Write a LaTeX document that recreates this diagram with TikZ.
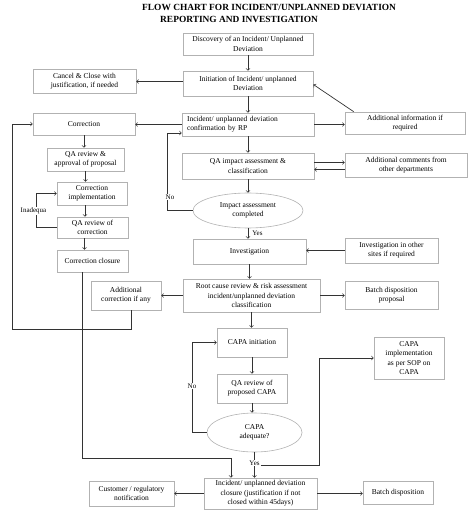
\documentclass[tikz,border=0pt]{standalone}
\usepackage{fontspec}
\setmainfont{Liberation Serif}
\usepackage{tikz}
\usetikzlibrary{arrows}
\usetikzlibrary{calc}
\usetikzlibrary{shapes.geometric}
\tikzset{
  box/.style={draw=black!30,line width=0.6pt,align=center,inner sep=1pt,font=\fontsize{7.5}{9.3}\selectfont},
  oval/.style={ellipse,draw=black!30,line width=0.6pt,align=center,inner sep=0pt,font=\fontsize{7.5}{9.3}\selectfont},
  lbl/.style={fill=white,inner sep=1pt,font=\fontsize{7}{8}\selectfont},
  ttl/.style={anchor=west,inner sep=0pt,font=\fontsize{9.4}{10}\selectfont\bfseries},
  link/.style={draw=black!80,line width=0.7pt}
}

\begin{document}
\begin{tikzpicture}[x=1pt,y=-1pt,>=to]
\useasboundingbox (0,0) rectangle (474,513);
\draw(142,7.5) node[ttl] (t1) {FLOW CHART FOR INCIDENT/UNPLANNED DEVIATION};
\draw(160,19.5) node[ttl] (t2) {REPORTING AND INVESTIGATION};
\draw(248,44) node[box,minimum width=130pt,minimum height=22pt] (disc) {Discovery of an Incident/ Unplanned\\Deviation};
\draw(248,83.5) node[box,minimum width=130pt,minimum height=25pt] (init) {Initiation of Incident/ unplanned\\Deviation};
\draw(84.5,81) node[box,minimum width=103pt,minimum height=24pt] (cancel) {Cancel \& Close with\\justification, if needed};
\draw(248,124.5) node[box,minimum width=132pt,minimum height=23pt,text width=122pt,align=left] (confirm) {Incident/ unplanned deviation\\confirmation by RP};
\draw(84,124) node[box,minimum width=102pt,minimum height=22pt] (correct) {Correction};
\draw(405,123) node[box,minimum width=120pt,minimum height=22pt] (addinfo) {Additional information if\\required};
\draw(248,166) node[box,minimum width=132pt,minimum height=26pt] (qaimp) {QA impact assessment \&\\classification};
\draw(406,165) node[box,minimum width=122pt,minimum height=24pt] (addcom) {Additional comments from\\other departments};
\draw(248,210.5) node[oval,minimum width=110pt,minimum height=35pt] (impact) {Impact assessment\\completed};
\draw(249.5,251.5) node[box,minimum width=113pt,minimum height=25pt] (invest) {Investigation};
\draw(391.5,250.5) node[box,minimum width=93pt,minimum height=25pt] (invother) {Investigation in other\\sites if required};
\draw(85.5,159.5) node[box,minimum width=77pt,minimum height=23pt] (qaappr) {QA review \&\\approval of proposal};
\draw(92,193.5) node[box,minimum width=70pt,minimum height=23pt] (cimpl) {Correction\\implementation};
\draw(92.5,227.5) node[box,minimum width=71pt,minimum height=21pt] (qacorr) {QA review of\\correction};
\draw(92.5,261) node[box,minimum width=71pt,minimum height=22pt] (cclose) {Correction closure};
\draw(251.5,295.5) node[box,minimum width=137pt,minimum height=33pt] (rootc) {Root cause review \& risk assessment\\incident/unplanned deviation\\classification};
\draw(126,295.5) node[box,minimum width=70pt,minimum height=29pt] (addcorr) {Additional\\correction if any};
\draw(391.5,295) node[box,minimum width=93pt,minimum height=28pt] (batchp) {Batch disposition\\proposal};
\draw(252,342.5) node[box,minimum width=70pt,minimum height=29pt] (capai) {CAPA initiation};
\draw(409,358) node[box,minimum width=70pt,minimum height=42pt] (capaimpl) {CAPA\\implementation\\as per SOP on\\CAPA};
\draw(252,388.5) node[box,minimum width=70pt,minimum height=29pt] (qarev) {QA review of\\proposed CAPA};
\draw(254.5,432.5) node[oval,minimum width=95pt,minimum height=39pt] (adequate) {CAPA\\adequate?};
\draw(260.5,493.5) node[box,minimum width=113pt,minimum height=31pt] (closure) {Incident/ unplanned deviation\\closure (justification if not\\closed within 45days)};
\draw(131.5,493.5) node[box,minimum width=85pt,minimum height=25pt] (custnot) {Customer / regulatory\\notification};
\draw(398,492.5) node[box,minimum width=70pt,minimum height=23pt] (batchd) {Batch disposition};
\coordinate (cjoin) at (231,458);
\coordinate (lbus) at (12,329);
\coordinate (rbus) at (319,0);
\draw[link,->] (disc.south) -- (disc.south |- init.north);
\draw[link,->] ([yshift=2pt]init.west) -- ([yshift=2pt]init.west -| cancel.east);
\draw[link,->] (init.south) -- (init.south |- confirm.north);
\draw[link,->] (confirm.west) -- (confirm.west -| correct.east);
\draw[link,->] (confirm.east) -- (confirm.east -| addinfo.west);
\draw[link,->] ([xshift=9pt]addinfo.north west) -- ([yshift=-1pt]init.east);
\draw[link,->] (confirm.south) -- (confirm.south |- qaimp.north);
\draw[link,->] ([yshift=3.5pt]qaimp.east) -- ([yshift=3.5pt]qaimp.east -| addcom.west);
\draw[link,->] ([yshift=-3.5pt]qaimp.east -| addcom.west) -- ([yshift=-3.5pt]qaimp.east);
\draw[link,->] (qaimp.south) -- (qaimp.south |- impact.north);
\draw[link,->] (impact.west) -- ++(-25,0) |- ([yshift=-8.5pt]confirm.west);
\draw(170,197) node[lbl] (no1) {No};
\draw[link,->] (impact.south) -- (impact.south |- invest.north) node[midway,right,inner sep=4pt,font=\fontsize{7}{8}\selectfont] (yes1) {Yes};
\draw[link,->] (invother.west) -- (invother.west -| invest.east);
\draw[link,->] (invest.south) -- (invest.south |- rootc.north);
\draw[link,->] (correct.south) -- (correct.south |- qaappr.north);
\draw[link,->] (qaappr.south) -- (qaappr.south |- cimpl.north);
\draw[link,->] ([xshift=-7pt]cimpl.south) -- ([xshift=-7pt]cimpl.south |- qacorr.north);
\draw[link,->] ([xshift=-8pt]qacorr.south) -- ([xshift=-8pt]qacorr.south |- cclose.north);
\draw[link,->] (qacorr.west) -- ++(-20,0) |- (cimpl.west);
\draw(33.5,211) node[lbl] (inad) {Inadequa};
\draw[link,->] (rootc.west) -- (rootc.west -| addcorr.east);
\draw[link,->] (rootc.east) -- (rootc.east -| batchp.west);
\draw[link,->] (rootc.south) -- (rootc.south |- capai.north);
\draw[link,->] ([xshift=5pt]addcorr.south) |- (lbus) |- (correct.west);
\draw[link,->] ([xshift=-10pt]cclose.south) |- (cjoin) -- (cjoin |- closure.north);
\draw[link,->] (capai.south) -- (capai.south |- qarev.north);
\draw[link,->] (qarev.south) -- (qarev.south |- adequate.north);
\draw[link,->] (adequate.west) -- ++(-14,0) |- (capai.west);
\draw(192,386) node[lbl] (no2) {No};
\draw[link,->] (adequate.south) -- (adequate.south |- closure.north) node[lbl,pos=0.42] (yes2) {Yes};
\draw[link,->] ([yshift=-2pt]yes2.east) -- ([yshift=-2pt]yes2.east -| rbus) |- (capaimpl.west);
\draw[link,->] (closure.west) -- (closure.west -| custnot.east);
\draw[link,->] (closure.east) -- (closure.east -| batchd.west);
\end{tikzpicture}
\end{document}
